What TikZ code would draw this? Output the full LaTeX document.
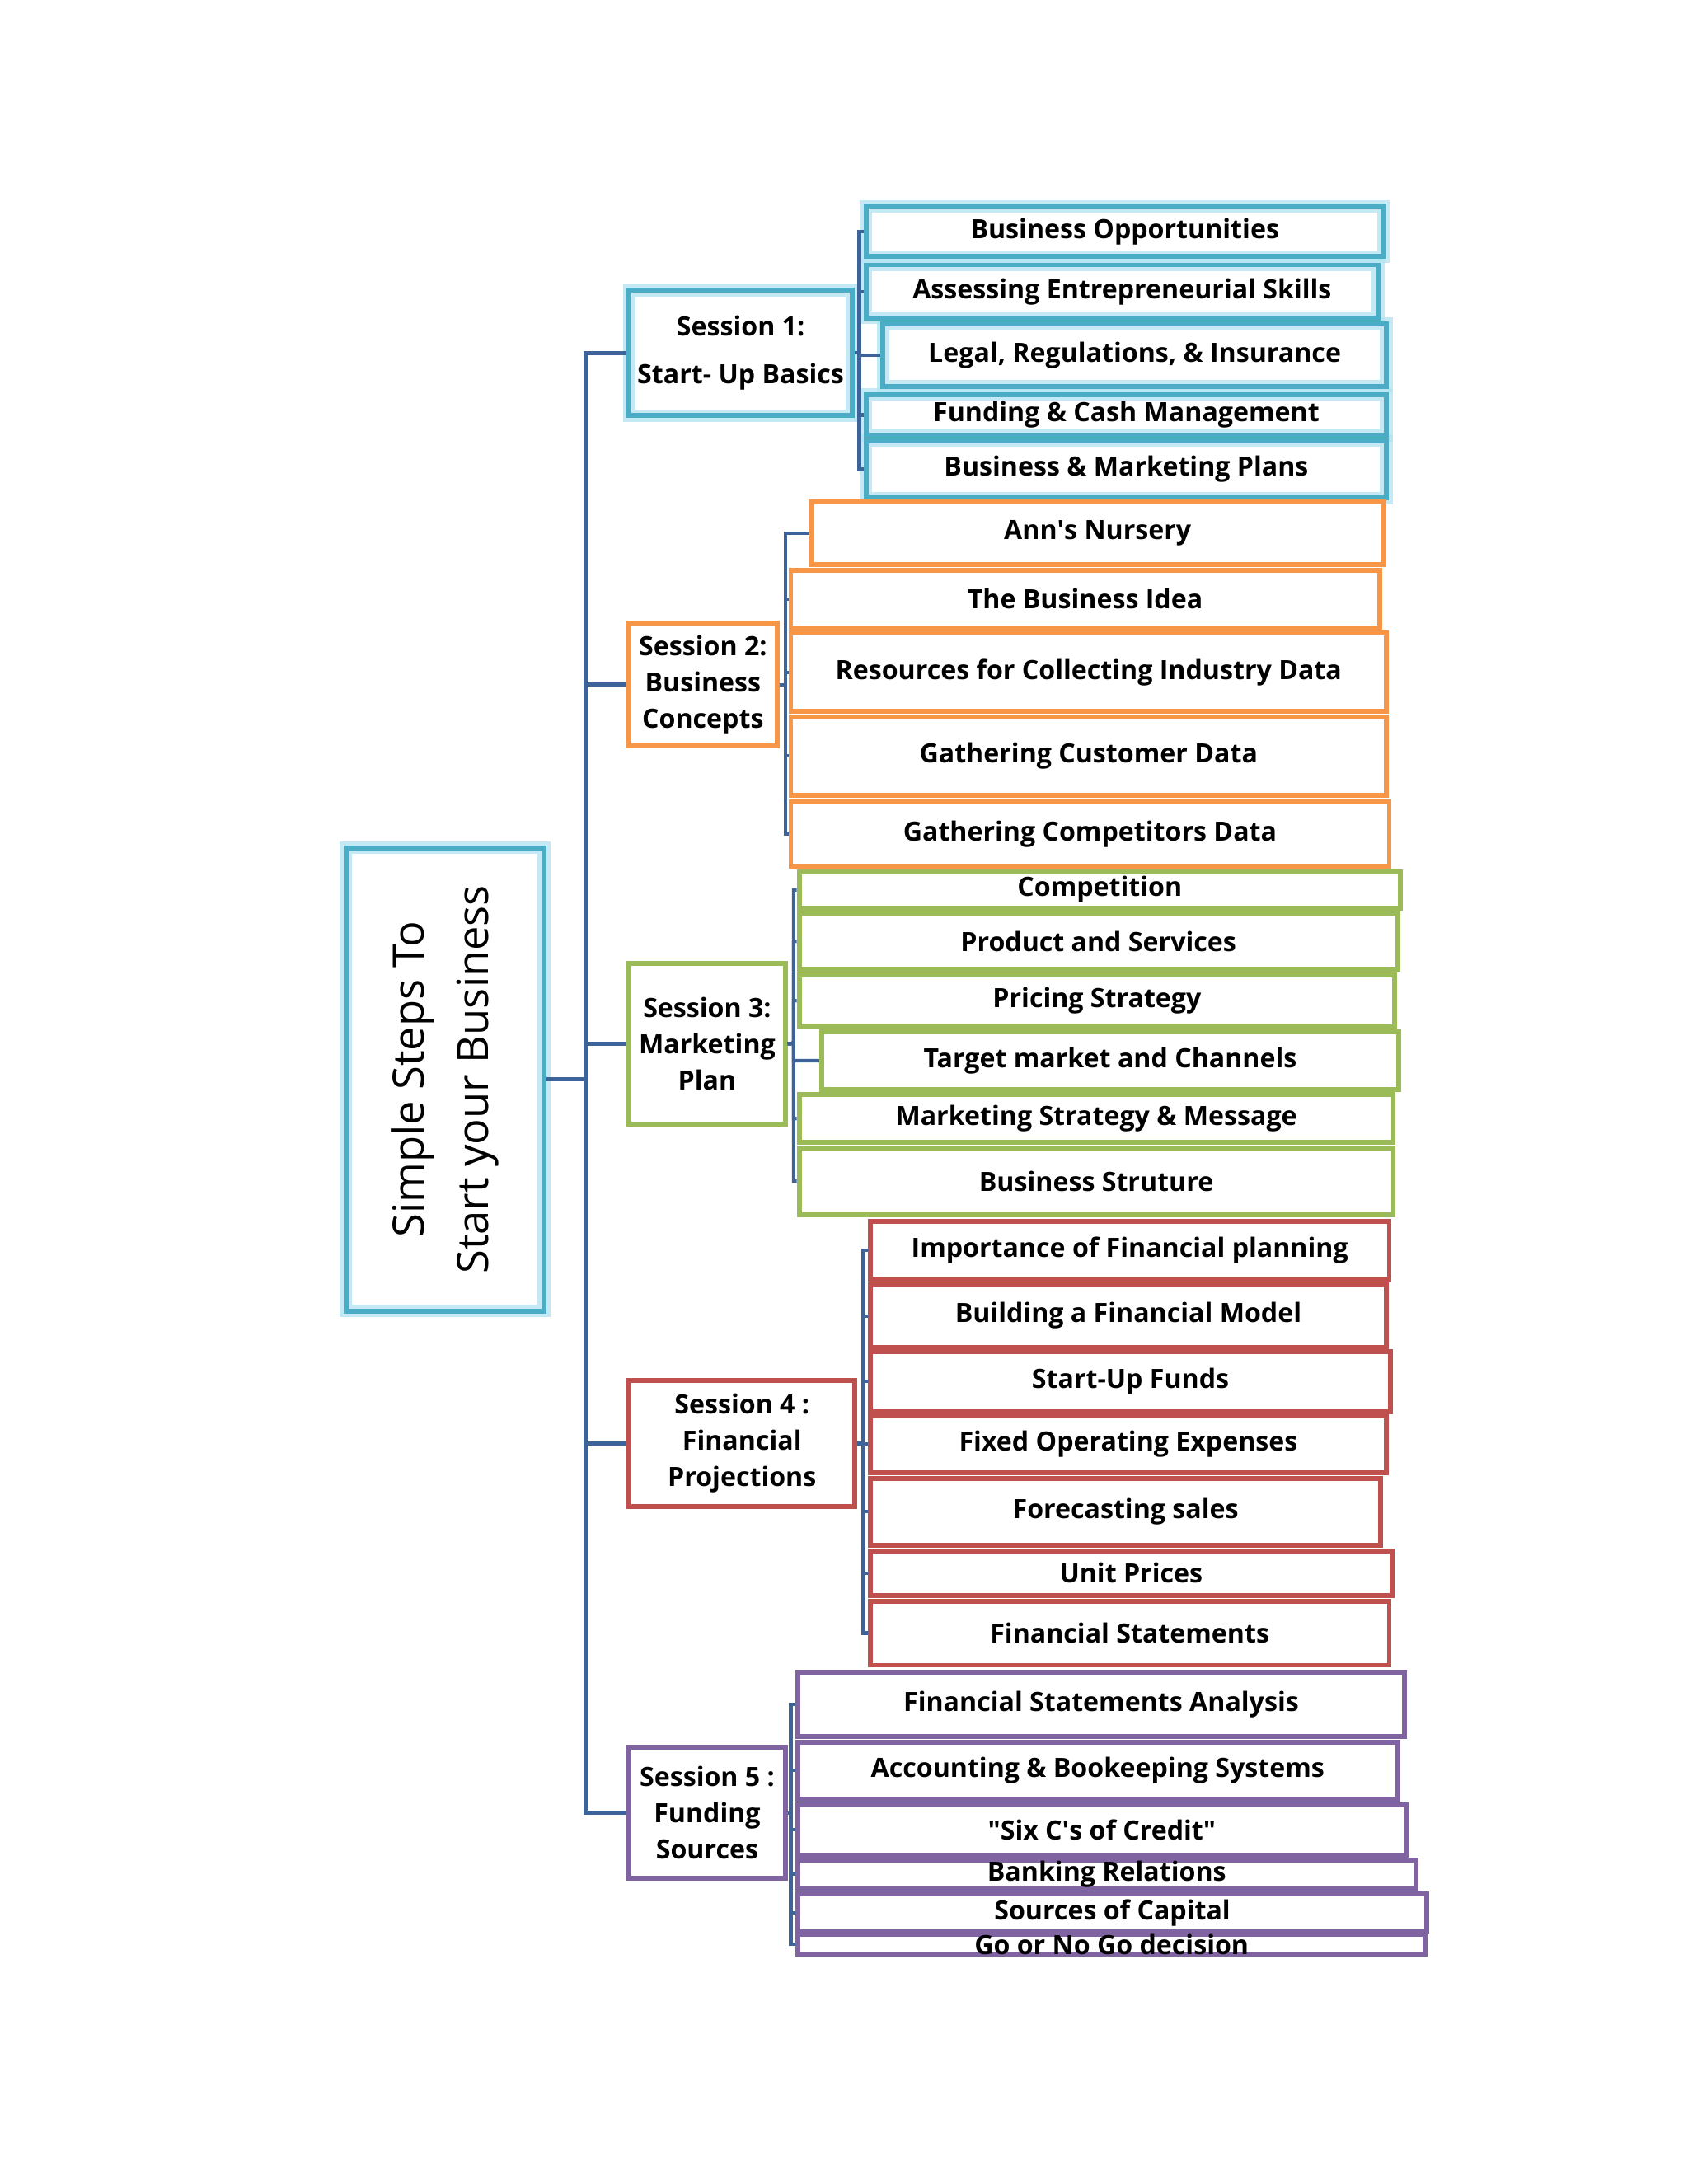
\documentclass[tikz,border=0pt]{standalone}
\usepackage{fontspec}
\setmainfont{Open Sans}
\usetikzlibrary{calc}
\definecolor{cy}{HTML}{4BACC6}
\definecolor{cyg}{HTML}{B7E4F2}
\definecolor{og}{HTML}{F79646}
\definecolor{gr}{HTML}{9BBB59}
\definecolor{rd}{HTML}{C0504D}
\definecolor{pu}{HTML}{8064A2}
\definecolor{ln}{HTML}{3E6398}
\tikzset{
 box/.style={draw=#1,line width=3.5pt,inner sep=0pt,align=center,font=\fontsize{19}{26}\selectfont\bfseries},
 conn/.style={draw=ln,line width=3pt},
 cconn/.style={draw=ln,line width=2.5pt}
}
\newcommand\B[7]{%
 \pgfmathsetmacro\w{#5-#3}\pgfmathsetmacro\h{#6-#4}%
 \pgfmathsetmacro\cx{(#3+#5)/2}\pgfmathsetmacro\cy{-(#4+#6)/2}%
 \node[box=#2,minimum width=\w pt,minimum height=\h pt] (#1) at (\cx,\cy) {#7};}
\begin{document}
\begin{tikzpicture}[x=1pt,y=1pt]
\useasboundingbox[fill=white] (0,0) rectangle (1210,-1566);
% glows
\foreach \a/\b/\c/\d in {248/608/390/940,451/208/611/298,621/148/992/184,621/190/988/228,633/232/994/277,621/283/994/312,621/316/994/357}
 \draw[cyg,line width=9pt,opacity=0.8] (\a,-\b) rectangle (\c,-\d);
% title
\node[draw=cy,line width=3.5pt,minimum width=142pt,minimum height=332pt,inner sep=0pt] (t) at (319,-774) {};
\node[rotate=90,align=center,font=\fontsize{31}{46}\selectfont] at (t.center) {Simple Steps To\\Start your Business};
% sessions
\B{s1}{cy}{451}{208}{611}{298}{Session 1:\\[8pt]Start- Up Basics}
\B{s2}{og}{451}{447}{557}{535}{Session 2:\\Business\\Concepts}
\B{s3}{gr}{451}{691}{563}{806}{Session 3:\\Marketing\\Plan}
\B{s4}{rd}{451}{990}{613}{1080}{Session 4 :\\Financial\\Projections}
\B{s5}{pu}{451}{1253}{563}{1347}{Session 5 :\\Funding\\Sources}
% S1
\B{a1}{cy}{621}{148}{992}{184}{Business Opportunities}
\B{a2}{cy}{621}{190}{988}{228}{Assessing Entrepreneurial Skills}
\B{a3}{cy}{633}{232}{994}{277}{Legal, Regulations, \& Insurance}
\B{a4}{cy}{621}{283}{994}{312}{Funding \& Cash Management}
\B{a5}{cy}{621}{316}{994}{357}{Business \& Marketing Plans}
% S2
\B{b1}{og}{582}{360}{992}{405}{Ann\textquotesingle s Nursery}
\B{b2}{og}{567}{409}{989}{450}{The Business Idea}
\B{b3}{og}{567}{454}{994}{510}{Resources for Collecting Industry Data}
\B{b4}{og}{567}{514}{994}{570}{Gathering Customer Data}
\B{b5}{og}{567}{575}{996}{621}{Gathering Competitors Data}
% S3
\B{c1}{gr}{573}{625}{1004}{651}{Competition}
\B{c2}{gr}{573}{655}{1002}{695}{Product and Services}
\B{c3}{gr}{573}{699}{1000}{736}{Pricing Strategy}
\B{c4}{gr}{589}{740}{1003}{781}{Target market and Channels}
\B{c5}{gr}{573}{785}{999}{819}{Marketing Strategy \& Message}
\B{c6}{gr}{573}{823}{999}{871}{Business Struture}
% S4
\B{d1}{rd}{624}{876}{996}{917}{Importance of Financial planning}
\B{d2}{rd}{624}{921}{994}{966}{Building a Financial Model}
\B{d3}{rd}{624}{969}{997}{1012}{Start-Up Funds}
\B{d4}{rd}{624}{1015}{994}{1056}{Fixed Operating Expenses}
\B{d5}{rd}{624}{1060}{990}{1108}{Forecasting sales}
\B{d6}{rd}{624}{1112}{998}{1144}{Unit Prices}
\B{d7}{rd}{624}{1148}{996}{1194}{Financial Statements}
% S5
\B{e1}{pu}{572}{1199}{1007}{1245}{Financial Statements Analysis}
\B{e2}{pu}{572}{1249}{1002}{1290}{Accounting \& Bookeeping Systems}
\B{e3}{pu}{572}{1294}{1008}{1330}{\textquotedbl Six C\textquotesingle s of Credit\textquotedbl}
\B{e4}{pu}{572}{1334}{1015}{1354}{Banking Relations}
\B{e5}{pu}{572}{1358}{1023}{1385}{Sources of Capital}
\B{e6}{pu}{572}{1387}{1022}{1401}{Go or No Go decision}
% trunk
\coordinate (tr) at (420,-774);
\foreach \s in {s1,s2,s3,s4,s5}
 \draw[conn] (t.east) -- (tr) |- (\s.west);
% brackets
\coordinate (k1) at (616,-253);
\foreach \n in {a1,a2,a3,a4,a5} \draw[cconn] (s1.east) -- (k1) |- (\n.west);
\coordinate (k2) at (563,-491);
\foreach \n in {b1,b2,b3,b4,b5} \draw[cconn] (s2.east) -- (k2) |- (\n.west);
\coordinate (k3) at (569,-748);
\foreach \n in {c1,c2,c3,c4,c5,c6} \draw[cconn] (s3.east) -- (k3) |- (\n.west);
\coordinate (k4) at (619,-1035);
\foreach \n in {d1,d2,d3,d4,d5,d6,d7} \draw[cconn] (s4.east) -- (k4) |- (\n.west);
\coordinate (k5) at (567,-1300);
\foreach \n in {e1,e2,e3,e4,e5,e6} \draw[cconn] (s5.east) -- (k5) |- (\n.west);
\end{tikzpicture}
\end{document}
